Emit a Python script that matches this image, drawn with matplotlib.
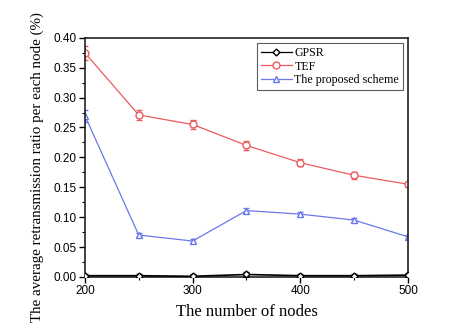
import matplotlib
matplotlib.use("Agg")
import matplotlib.pyplot as plt
from matplotlib.ticker import MultipleLocator
from matplotlib.lines import Line2D

nodes = [200, 250, 300, 350, 400, 450, 500]
gpsr = [0.002, 0.002, 0.001, 0.004, 0.002, 0.002, 0.003]
gpsr_err = [0.003, 0.003, 0.003, 0.004, 0.003, 0.003, 0.003]
tef = [0.375, 0.271, 0.255, 0.220, 0.191, 0.170, 0.155]
tef_err = [0.012, 0.009, 0.008, 0.007, 0.006, 0.006, 0.004]
proposed = [0.270, 0.070, 0.060, 0.111, 0.105, 0.095, 0.067]
proposed_err = [0.010, 0.003, 0.003, 0.004, 0.003, 0.003, 0.003]

fig = plt.figure(figsize=(4.74, 3.32), dpi=100)
ax = fig.add_axes([0.179, 0.166, 0.682, 0.720])

tick_font = "Liberation Sans"
serif = "Liberation Serif"
red = "#ec5a60"
blue = "#6a78ec"

ax.errorbar(nodes, gpsr, yerr=gpsr_err, color="black", marker="D", markersize=3.5,
            mfc="white", mec="black", lw=1.2, capsize=2, elinewidth=0.8, zorder=3)
ax.errorbar(nodes, tef, yerr=tef_err, color=red, marker="o", markersize=5,
            mfc="white", mec=red, lw=0.9, capsize=2.5, elinewidth=0.8)
ax.errorbar(nodes, proposed, yerr=proposed_err, color=blue, marker="^", markersize=5,
            mfc="white", mec=blue, lw=0.9, capsize=2.5, elinewidth=0.8)

ax.set_xlim(200, 500)
ax.set_ylim(0, 0.40)
ax.xaxis.set_major_locator(MultipleLocator(100))
ax.xaxis.set_minor_locator(MultipleLocator(50))
ax.yaxis.set_major_locator(MultipleLocator(0.05))
ax.yaxis.set_minor_locator(MultipleLocator(0.025))
ax.tick_params(axis="both", which="major", direction="out", length=4, width=1.0, labelsize=8.5, pad=2)
ax.tick_params(axis="both", which="minor", direction="out", length=2, width=0.8)
ax.tick_params(top=False, right=False)
ax.yaxis.set_major_formatter(matplotlib.ticker.FormatStrFormatter("%.2f"))
for lab in ax.get_xticklabels() + ax.get_yticklabels():
    lab.set_fontfamily(tick_font)

for s in ax.spines.values():
    s.set_linewidth(1.2)
    s.set_color("#222222")

ax.set_xlabel("The number of nodes", fontfamily=serif, fontsize=12, labelpad=5)
ax.set_ylabel("The average retransmission ratio per each node (%)", fontfamily=serif, fontsize=10.8, labelpad=4)
ax.yaxis.set_label_coords(-0.125, 0.46)

handles = [
    Line2D([], [], color="black", marker="D", markersize=3.5, mfc="white", mec="black", lw=0.9),
    Line2D([], [], color=red, marker="o", markersize=5, mfc="white", mec=red, lw=0.9),
    Line2D([], [], color=blue, marker="^", markersize=5, mfc="white", mec=blue, lw=0.9),
]
labels = ["GPSR", "TEF", "The proposed scheme"]
leg = ax.legend(handles, labels, loc="upper right", prop={"family": serif, "size": 8.6}, frameon=True,
                fancybox=False, edgecolor="#333333", handlelength=2.6, handletextpad=0.2, borderpad=0.3,
                labelspacing=0.15, borderaxespad=0.45)
leg.get_frame().set_linewidth(0.8)

fig.savefig("out.png", dpi=100)
